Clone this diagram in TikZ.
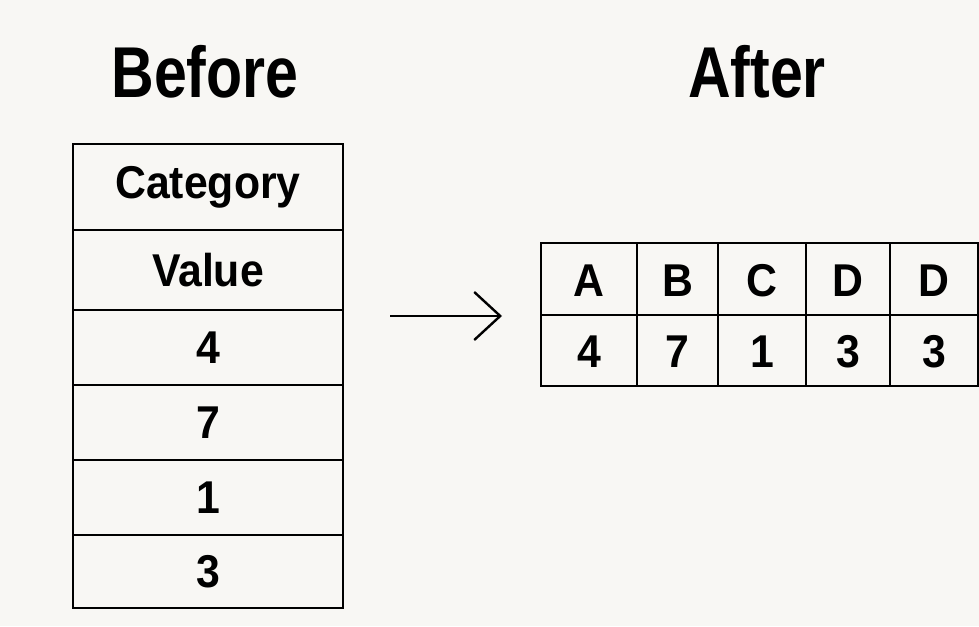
\documentclass[tikz,border=0pt]{standalone}
\usepackage{fontspec}
\setmainfont{Liberation Sans}
\usetikzlibrary{arrows.meta}
\definecolor{bg}{HTML}{F8F7F4}
\begin{document}
\begin{tikzpicture}[x=1pt,y=-1pt,
  txt/.style={font=\bfseries\fontsize{46}{48}\selectfont,xscale=0.93},
  ttl/.style={font=\bfseries\fontsize{72}{76}\selectfont,xscale=0.82}]
\fill[bg] (0,0) rectangle (979,626);
\useasboundingbox (0,0) rectangle (979,626);
\node[ttl] (before) at (205,72) {Before};
\node[ttl] (after) at (757,72) {After};
% left table
\foreach \a/\b/\t [count=\i] in {144/230/Category,230/310/Value,310/385/4,385/460/7,460/535/1,535/608/3}{
  \draw[line width=1.8pt] (73,\a) rectangle (343,\b);
  \node[txt] (l\i) at (208,{(\a+\b)/2}) {\t};
}
% right table
\foreach \a/\b/\h/\v [count=\i] in {541/637/A/4,637/718/B/7,718/806/C/1,806/890/D/3,890/978/D/3}{
  \draw[line width=1.8pt] (\a,243) rectangle (\b,315);
  \draw[line width=1.8pt] (\a,315) rectangle (\b,386);
  \node[txt] (h\i) at ({(\a+\b)/2},281) {\h};
  \node[txt] (v\i) at ({(\a+\b)/2},352) {\v};
}
\coordinate (s) at (390,316);
\coordinate (e) at (502,316);
\draw[line width=2.4pt,-{Straight Barb[length=26pt,width=48pt,line width=2.4pt]}] (s) -- (e);
\end{tikzpicture}
\end{document}
